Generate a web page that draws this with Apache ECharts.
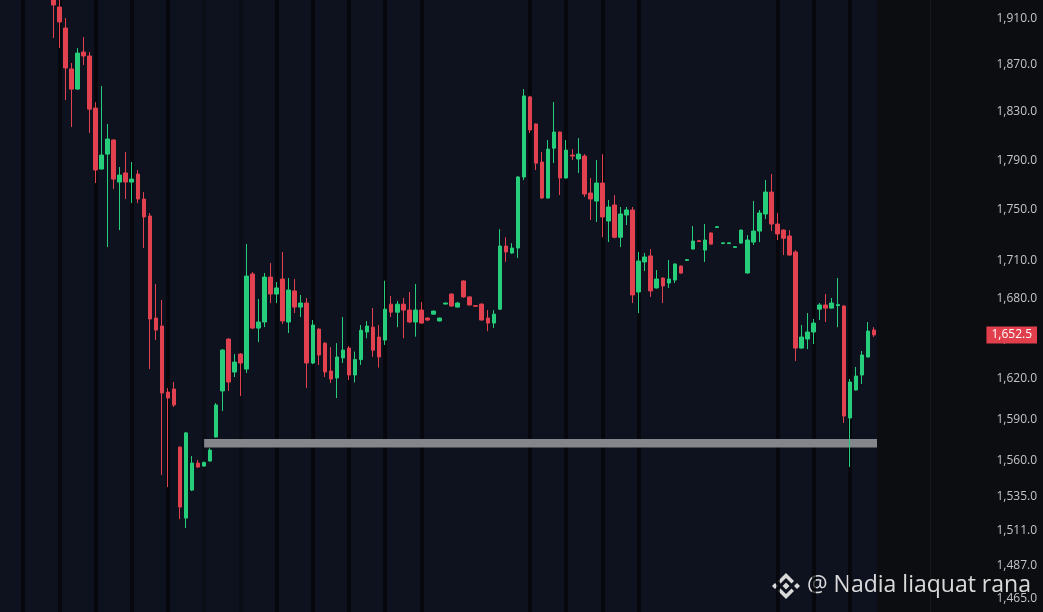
<!DOCTYPE html>
<html>
<head>
<meta charset="utf-8">
<script src="https://cdn.jsdelivr.net/npm/echarts@6/dist/echarts.min.js"></script>
<style>
html,body{margin:0;padding:0;background:#0e121e;}
#chart{width:1043px;height:612px;}
</style>
</head>
<body>
<div id="chart"></div>
<script>
// ---- data ----
const opens = [1933.0,1919.9,1901.6,1866.3,1849.2,1880.8,1877.4,1833.2,1782.8,1795.0,
1806.6,1772.2,1779.6,1772.2,1778.7,1758.5,1744.9,1665.3,1659.2,1609.9,
1612.1,1569.8,1519.7,1539.3,1558.4,1556.3,1559.9,1577.1,1610.7,1649.4,
1624.7,1638.1,1626.9,1699.2,1657.7,1662.3,1696.8,1683.7,1695.3,1662.3,
1686.1,1673.7,1676.8,1631.4,1656.9,1646.3,1625.5,1620.3,1635.2,1642.6,
1622.5,1634.0,1654.7,1658.4,1650.9,1648.6,1675.9,1669.8,1675.9,1671.4,
1662.3,1671.4,1665.3,1668.3,1663.1,1676.0,1683.7,1673.7,1693.8,1681.5,
1674.8,1676.0,1665.3,1661.5,1672.1,1721.1,1715.6,1719.5,1776.3,1842.6,
1819.9,1788.5,1759.3,1799.9,1813.2,1775.5,1794.2,1791.0,1793.4,1763.3,
1756.9,1771.4,1740.9,1753.7,1728.0,1745.7,1749.7,1685.3,1708.6,1713.3,
1688.4,1696.1,1692.2,1694.5,1705.4,1709.8,1718.7,1725.3,1717.9,1731.4,
1735.8,1723.0,1723.0,1720.0,1723.4,1700.0,1724.2,1732.9,1746.5,1764.1,
1738.5,1733.7,1729.0,1716.4,1642.6,1649.4,1654.7,1672.1,1675.3,1672.9,
1674.8,1674.5,1590.9,1611.4,1622.5,1635.9,1656.2];
const highs = [1939.0,1927.9,1910.3,1871.4,1884.2,1893.7,1880.8,1838.2,1851.8,1819.9,
1807.4,1784.4,1796.7,1788.5,1782.0,1764.1,1747.3,1691.4,1679.1,1612.9,
1617.3,1570.6,1580.8,1563.5,1560.6,1559.5,1569.1,1601.8,1641.8,1650.1,
1638.1,1638.9,1722.6,1700.7,1679.9,1700.0,1707.8,1693.0,1716.4,1696.1,
1695.3,1683.0,1680.7,1663.8,1657.7,1647.1,1643.3,1646.3,1666.1,1644.1,
1640.0,1660.0,1663.0,1673.0,1660.0,1694.0,1682.2,1678.3,1680.7,1685.3,
1691.4,1677.6,1666.0,1671.0,1665.6,1677.0,1684.2,1677.6,1694.3,1682.0,
1675.0,1676.5,1671.4,1671.4,1734.4,1728.0,1723.4,1777.0,1849.2,1843.5,
1820.5,1796.7,1806.6,1838.2,1813.6,1806.6,1799.1,1808.2,1795.0,1775.5,
1790.1,1795.0,1757.7,1761.7,1752.1,1752.1,1752.1,1716.4,1715.6,1718.7,
1702.3,1696.5,1710.1,1707.5,1705.8,1710.6,1736.9,1725.6,1738.5,1731.8,
1736.6,1723.8,1723.8,1720.8,1734.0,1729.7,1756.9,1749.7,1773.8,1778.7,
1747.3,1734.2,1733.7,1717.9,1660.0,1669.1,1664.6,1676.8,1683.7,1680.7,
1696.1,1675.2,1619.5,1628.4,1640.4,1662.3,1658.4];
const lows = [1892.9,1884.2,1839.9,1817.4,1848.5,1869.7,1812.4,1771.4,1782.4,1720.3,
1766.5,1733.7,1758.5,1755.3,1755.3,1719.5,1626.9,1648.6,1549.9,1541.4,
1598.9,1519.0,1512.8,1538.6,1554.9,1555.8,1559.5,1576.8,1596.0,1610.7,
1621.0,1606.9,1624.0,1656.9,1647.1,1658.4,1676.8,1676.8,1660.8,1653.9,
1669.1,1666.1,1612.9,1630.6,1629.9,1621.0,1616.6,1605.5,1631.4,1618.8,
1617.0,1630.0,1650.0,1636.0,1628.0,1645.0,1666.1,1658.4,1650.1,1661.5,
1651.2,1661.0,1663.0,1668.0,1662.8,1675.8,1674.0,1673.5,1681.0,1675.0,
1674.1,1663.5,1655.4,1657.7,1671.4,1708.6,1715.0,1711.7,1773.8,1812.4,
1782.0,1758.5,1758.8,1787.6,1761.7,1775.0,1790.1,1779.6,1760.1,1741.7,
1740.1,1728.0,1724.2,1727.2,1720.3,1737.7,1676.8,1669.1,1701.5,1681.5,
1688.0,1676.8,1688.4,1692.2,1699.5,1709.6,1718.3,1724.4,1708.6,1722.2,
1735.6,1722.8,1722.8,1719.8,1723.0,1699.5,1721.9,1724.2,1742.5,1733.0,
1725.8,1714.0,1713.5,1632.9,1642.2,1641.8,1645.6,1663.8,1662.3,1672.5,
1658.4,1587.3,1555.6,1611.0,1615.9,1635.5,1651.0];
const closes = [1921.7,1906.8,1867.1,1849.2,1879.9,1877.4,1832.3,1782.0,1794.2,1807.4,
1774.6,1777.9,1772.2,1774.6,1758.5,1744.1,1664.6,1656.2,1609.2,1605.5,
1600.4,1527.4,1580.1,1558.4,1555.6,1558.9,1567.7,1600.4,1641.1,1617.3,
1632.1,1631.4,1697.6,1657.7,1662.3,1696.8,1683.7,1688.4,1663.1,1686.8,
1673.7,1676.8,1631.4,1660.0,1637.4,1624.7,1619.5,1635.9,1641.1,1622.5,
1634.0,1656.0,1659.2,1641.0,1636.0,1672.1,1669.8,1675.9,1671.4,1662.3,
1671.4,1661.5,1663.8,1670.6,1665.3,1676.8,1674.5,1676.8,1681.5,1675.3,
1674.3,1663.8,1661.5,1668.3,1721.1,1716.4,1719.5,1776.3,1843.4,1814.9,
1787.6,1759.3,1799.1,1813.2,1775.5,1798.3,1793.4,1795.0,1762.5,1758.5,
1771.4,1744.1,1752.1,1728.0,1746.5,1749.7,1683.0,1709.3,1712.5,1686.1,
1695.3,1689.9,1695.3,1707.0,1699.9,1710.4,1725.0,1724.6,1725.8,1722.6,
1736.4,1723.6,1723.6,1720.6,1733.7,1725.8,1732.9,1747.3,1764.1,1738.5,
1730.6,1727.2,1714.0,1642.6,1650.9,1654.7,1661.5,1675.3,1672.9,1676.8,
1675.6,1592.3,1617.3,1621.7,1637.4,1655.4,1652.5];

const tickValues = [1465,1487,1511,1535,1560,1590,1620,1650,1680,1710,1750,1790,1830,1870,1910];
const lastPrice = 1652.5;
const leadSlots = 8;                 // empty slots before the first visible candle
const stripeIdx = [-5,1,7,13,19,37,43,49,55,61,79,85,91,97,120,126,132];
const faintStripeIdx = [25,31];
const supportZone = [1569.6, 1575.6];
const supportStartIdx = 25;
const yMin = 1455.8, yMax = 1926.1;

// ---- styles ----
const GREEN = '#26ce7b', RED = '#e2414f';
const PLOT_BG = '#0e121e', PANEL_BG = '#0c0d10';
const LABEL = '#c3c5ca';
const FONT = '"Open Sans", "Noto Sans", sans-serif';

const fmt = v => v.toLocaleString('en-US', {minimumFractionDigits: 1, maximumFractionDigits: 1});

const total = leadSlots + opens.length;
const categories = [];
for (let i = 0; i < total; i++) categories.push('c' + i);
const candleData = [];
for (let i = 0; i < leadSlots; i++) candleData.push(['-', '-', '-', '-']);
for (let i = 0; i < opens.length; i++) candleData.push([opens[i], closes[i], lows[i], highs[i]]);
const emptyData = categories.map(() => '-');

const stripeLines = stripeIdx.map(i => ({xAxis: i + leadSlots, lineStyle: {color: 'rgba(3,4,6,0.68)', width: 4, type: 'solid'}}))
  .concat(faintStripeIdx.map(i => ({xAxis: i + leadSlots, lineStyle: {color: 'rgba(3,4,6,0.28)', width: 4, type: 'solid'}})));

const chart = echarts.init(document.getElementById('chart'), null, {renderer: 'canvas'});
const W = 1043, H = 612, plotRight = 877;

chart.setOption({
  animation: false,
  backgroundColor: PLOT_BG,
  grid: {left: 2, right: W - plotRight, top: 0, bottom: 0, containLabel: false, outerBoundsMode: 'none'},
  xAxis: {
    type: 'category', data: categories, boundaryGap: true,
    axisLine: {show: false}, axisTick: {show: false}, axisLabel: {show: false}, splitLine: {show: false}
  },
  yAxis: [
    {type: 'log', min: yMin, max: yMax, show: false, splitLine: {show: false}},
    {
      type: 'value', position: 'right', min: Math.log(yMin), max: Math.log(yMax),
      axisLine: {show: false}, axisTick: {show: false}, splitLine: {show: false},
      axisLabel: {
        customValues: tickValues.map(Math.log),
        formatter: v => fmt(Math.exp(v)),
        color: LABEL, fontSize: 12, fontFamily: FONT, align: 'right', margin: 160
      }
    },
    {
      type: 'value', position: 'right', min: Math.log(yMin), max: Math.log(yMax), z: 10,
      axisLine: {show: false}, axisTick: {show: false}, splitLine: {show: false},
      axisLabel: {
        customValues: [Math.log(lastPrice)],
        formatter: v => fmt(Math.exp(v)),
        color: '#ffffff', fontSize: 12, fontFamily: FONT, align: 'right', margin: 160,
        backgroundColor: '#e23f4d', padding: [3, 5, 2, 5]
      }
    }
  ],
  series: [
    {
      type: 'line', data: emptyData, z: 1, silent: true, symbol: 'none',
      markLine: {z: 1, silent: true, symbol: ['none', 'none'], label: {show: false}, animation: false, data: stripeLines},
      markArea: {
        z: 2, silent: true, label: {show: false},
        itemStyle: {color: 'rgba(140,141,146,0.95)'},
        data: [[{xAxis: supportStartIdx + leadSlots, yAxis: supportZone[1]}, {yAxis: supportZone[0]}]]
      }
    },
    {
      type: 'candlestick', z: 3, data: candleData, barWidth: 4,
      itemStyle: {color: GREEN, color0: RED, borderColor: GREEN, borderColor0: RED, borderWidth: 1}
    }
  ],
  graphic: [
    {type: 'rect', z: -100, silent: true, shape: {x: plotRight, y: 0, width: W - plotRight, height: H}, style: {fill: PANEL_BG}},
    {type: 'rect', z: -99, silent: true, shape: {x: 930, y: 0, width: 1, height: H}, style: {fill: '#16171b'}},
    {
      type: 'group', z: 100, silent: true,
      children: [
        {type: 'polygon', shape: {points: [[786,573],[794,581],[791.5,583.5],[786,578],[780.5,583.5],[778,581]]}, style: {fill: 'rgba(235,235,235,0.92)'}},
        {type: 'polygon', shape: {points: [[786,599],[794,591],[791.5,588.5],[786,594],[780.5,588.5],[778,591]]}, style: {fill: 'rgba(235,235,235,0.92)'}},
        {type: 'polygon', shape: {points: [[786,582.5],[789.5,586],[786,589.5],[782.5,586]]}, style: {fill: 'rgba(235,235,235,0.92)'}},
        {type: 'polygon', shape: {points: [[775,583],[778,586],[775,589],[772,586]]}, style: {fill: 'rgba(235,235,235,0.92)'}},
        {type: 'polygon', shape: {points: [[797,583],[800,586],[797,589],[794,586]]}, style: {fill: 'rgba(235,235,235,0.92)'}},
        {type: 'text', style: {text: '@ Nadia liaquat rana', x: 807, y: 585, font: '23px ' + FONT, fill: 'rgba(235,235,235,0.92)', verticalAlign: 'middle', align: 'left'}}
      ]
    }
  ]
});
</script>
</body>
</html>
